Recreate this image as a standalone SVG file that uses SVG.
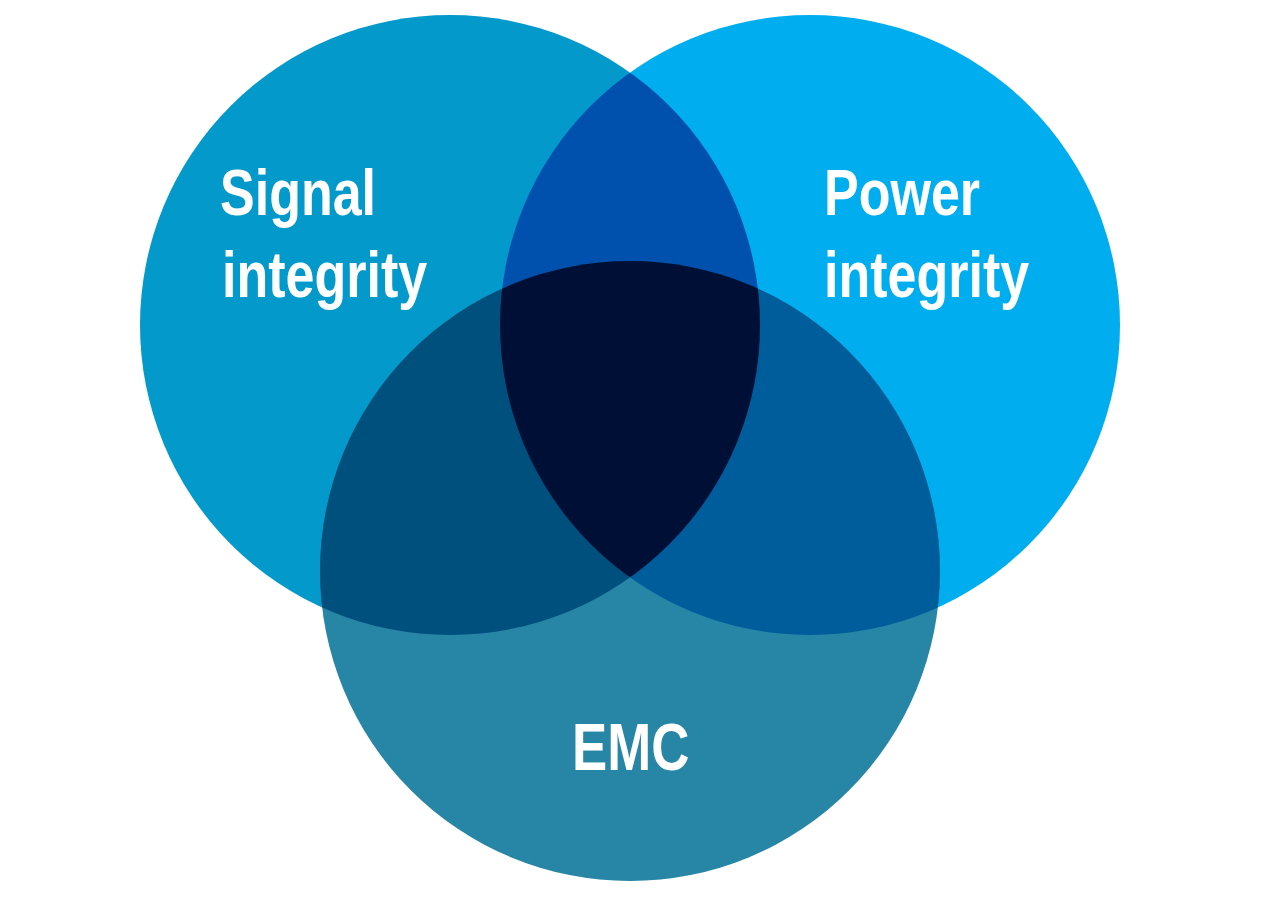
<svg xmlns="http://www.w3.org/2000/svg" width="1280" height="908" viewBox="0 0 1280 908">
  <style>
    .lbl { font-family: "Liberation Sans", Arial, sans-serif; font-weight: bold; font-size: 65px; fill: #ffffff; }
  </style>
  <defs>
    <clipPath id="clipA"><circle cx="450" cy="325" r="310"/></clipPath>
    <clipPath id="clipB"><circle cx="810" cy="325" r="310"/></clipPath>
    <clipPath id="clipC"><circle cx="630" cy="571" r="310"/></clipPath>
  </defs>
  <rect width="1280" height="908" fill="#ffffff"/>
  <g id="signal-integrity">
    <circle cx="450" cy="325" r="310" fill="#0399CB"/>
  </g>
  <g id="power-integrity">
    <circle cx="810" cy="325" r="310" fill="#00AEEF"/>
  </g>
  <g id="emc">
    <circle cx="630" cy="571" r="310" fill="#2785A6"/>
  </g>
  <g id="overlaps">
    <g clip-path="url(#clipA)"><circle cx="810" cy="325" r="310" fill="#0050AD"/></g>
    <g clip-path="url(#clipA)"><circle cx="630" cy="571" r="310" fill="#00507E"/></g>
    <g clip-path="url(#clipB)"><circle cx="630" cy="571" r="310" fill="#005D9B"/></g>
    <g clip-path="url(#clipA)"><g clip-path="url(#clipB)"><circle cx="630" cy="571" r="310" fill="#000F36"/></g></g>
  </g>
  <g id="labels">
    <text class="lbl" transform="translate(220,215) scale(0.8,1)">Signal</text>
    <text class="lbl" transform="translate(222,297) scale(0.8,1)">integrity</text>
    <text class="lbl" transform="translate(824,215) scale(0.8,1)">Power</text>
    <text class="lbl" transform="translate(824,297) scale(0.8,1)">integrity</text>
    <text class="lbl" transform="translate(572,770) scale(0.8,1)" style="font-size:66px">EMC</text>
  </g>
</svg>
